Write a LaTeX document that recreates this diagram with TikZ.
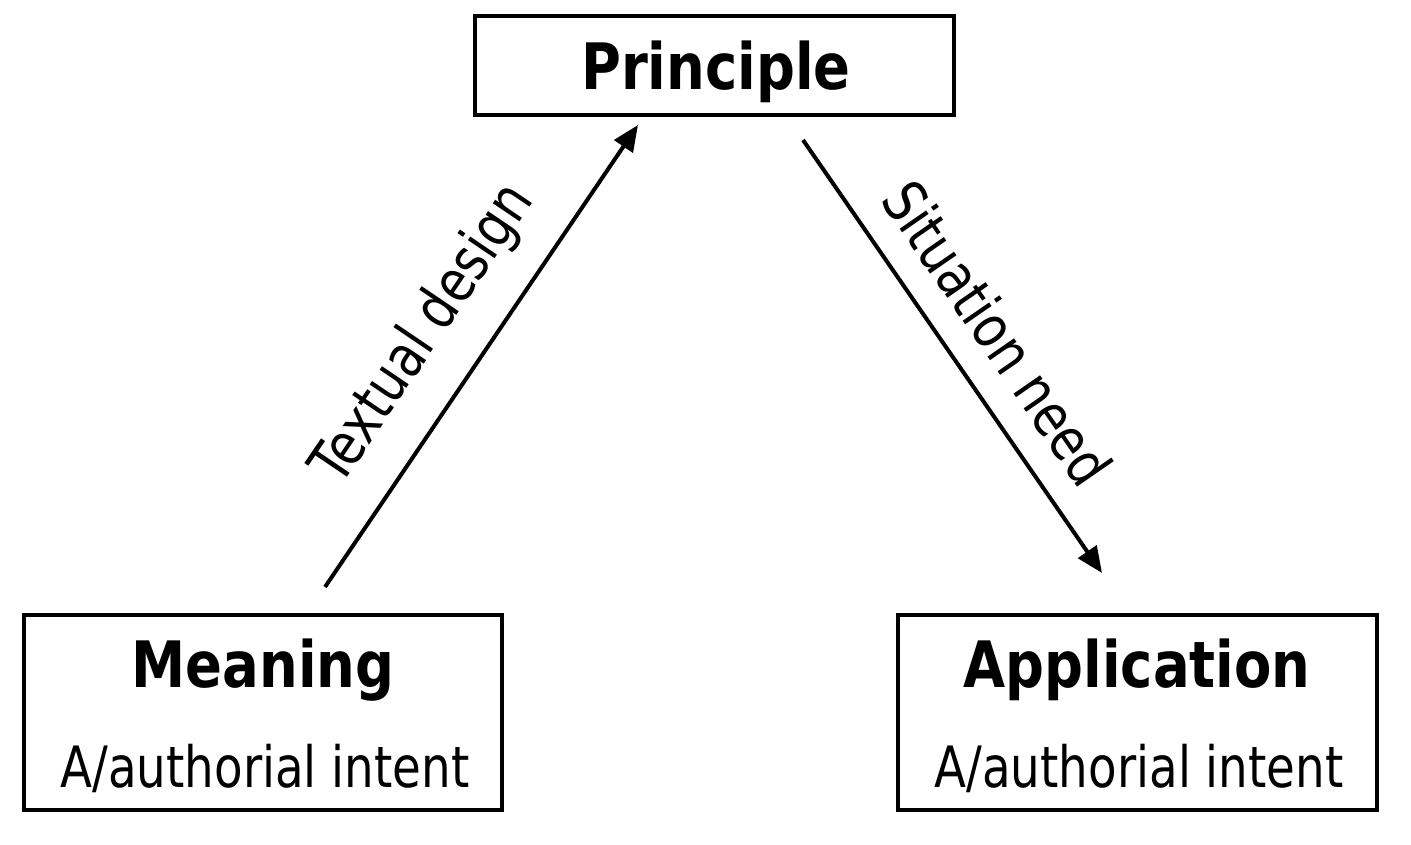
\documentclass[tikz,border=0pt]{standalone}
\usepackage{fontspec}
\setmainfont{DejaVu Sans}[FakeStretch=0.82,BoldFeatures={FakeStretch=0.85}]
\usetikzlibrary{arrows.meta}
\begin{document}
\begin{tikzpicture}[x=1pt,y=-1pt,
  box/.style={draw,line width=4pt},
  hd/.style={font=\fontsize{64}{70}\selectfont\bfseries},
  sub/.style={font=\fontsize{57}{62}\selectfont},
  lab/.style={font=\fontsize{59}{64}\selectfont},
  arr/.style={line width=4pt,-{Triangle[length=26pt,width=22pt]}}]
\useasboundingbox (0,0) rectangle (1411,845);
\node[box,minimum width=479pt,minimum height=99pt] (p) at (714.5,65.5) {};
\node[hd] (pt) at (716,72) {Principle};
\node[box,minimum width=478pt,minimum height=195pt] (m) at (263,712.5) {};
\node[hd] (mt) at (263,670) {Meaning};
\node[sub] (ms) at (265,768) {A/authorial intent};
\node[box,minimum width=479pt,minimum height=195pt] (a) at (1137.5,712.5) {};
\node[hd] (at) at (1137,670) {Application};
\node[sub] (as) at (1139,768) {A/authorial intent};
\coordinate (s1) at (325,587); \coordinate (e1) at (638,125);
\coordinate (s2) at (803,140); \coordinate (e2) at (1102,573);
\draw[arr] (s1) -- (e1);
\draw[arr] (s2) -- (e2);
\node[lab,rotate=55.9] (l1) at (424,335) {Textual design};
\node[lab,rotate=-55.3] (l2) at (998,333) {Situation need};
\end{tikzpicture}
\end{document}
